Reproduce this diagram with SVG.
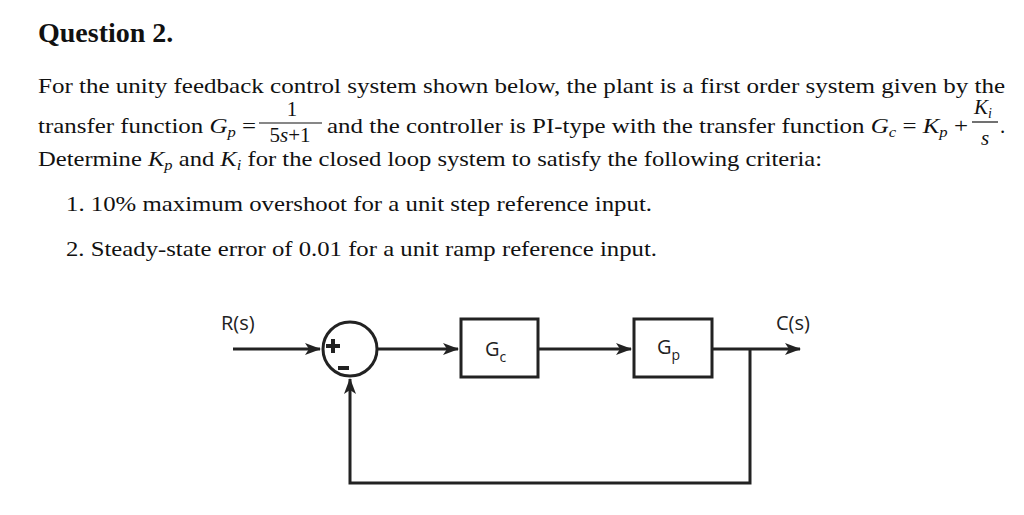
<svg xmlns="http://www.w3.org/2000/svg" width="1024" height="515" viewBox="0 0 1024 515">
<style>
.t{font-family:"Liberation Serif",serif;font-size:21px;fill:#111}
.i{font-style:italic}
.d{font-family:"Open Sans","DejaVu Sans",sans-serif;font-size:20px;fill:#222}
.ln{stroke:#222;stroke-width:3;fill:none}
</style>
<defs><marker id="a" viewBox="0 0 16 12" refX="15" refY="6" markerWidth="16" markerHeight="12" markerUnits="userSpaceOnUse" orient="auto"><path d="M0,0 L16,6 L0,12 L4,6z" fill="#222"/></marker></defs>
<rect width="1024" height="515" fill="#fff"/>
<text x="38" y="42" font-family="Liberation Serif,serif" font-weight="bold" font-size="28" fill="#111">Question 2.</text>
<text class="t" x="38" y="93" textLength="967" lengthAdjust="spacingAndGlyphs">For the unity feedback control system shown below, the plant is a first order system given by the</text>
<text class="t" x="38" y="133" textLength="218" lengthAdjust="spacingAndGlyphs">transfer function <tspan class="i">G</tspan><tspan class="i" font-size="14" dy="4">p</tspan><tspan dy="-4"> = </tspan></text>
<text class="t" x="292" y="116" text-anchor="middle">1</text>
<line x1="259" y1="123" x2="322" y2="123" stroke="#111" stroke-width="1.2"/>
<text class="t" x="290" y="142" text-anchor="middle">5<tspan class="i">s</tspan>+1</text>
<text class="t" x="327" y="133" textLength="641" lengthAdjust="spacingAndGlyphs">and the controller is PI-type with the transfer function <tspan class="i">G</tspan><tspan class="i" font-size="14" dy="4">c</tspan><tspan dy="-4"> = </tspan><tspan class="i">K</tspan><tspan class="i" font-size="14" dy="4">p</tspan><tspan dy="-4"> +</tspan></text>
<text class="t i" x="983" y="114" text-anchor="middle">K<tspan font-size="14" dy="4">i</tspan></text>
<line x1="972" y1="122" x2="998" y2="122" stroke="#111" stroke-width="1.2"/>
<text class="t i" x="985" y="145" text-anchor="middle">s</text>
<text class="t" x="1000" y="133">.</text>
<text class="t" x="38" y="166" textLength="784" lengthAdjust="spacingAndGlyphs">Determine <tspan class="i">K</tspan><tspan class="i" font-size="14" dy="4">p</tspan><tspan dy="-4"> and </tspan><tspan class="i">K</tspan><tspan class="i" font-size="14" dy="4">i</tspan><tspan dy="-4"> for the closed loop system to satisfy the following criteria:</tspan></text>
<text class="t" x="66" y="211" textLength="586" lengthAdjust="spacingAndGlyphs">1.  10% maximum overshoot for a unit step reference input.</text>
<text class="t" x="66" y="256" textLength="591" lengthAdjust="spacingAndGlyphs">2.  Steady-state error of 0.01 for a unit ramp reference input.</text>
<g id="connectors">
<line class="ln" x1="233" y1="349" x2="320" y2="349" marker-end="url(#a)"/>
<line class="ln" x1="378" y1="349" x2="458" y2="349" marker-end="url(#a)"/>
<line class="ln" x1="538" y1="349" x2="631" y2="349" marker-end="url(#a)"/>
<line class="ln" x1="712" y1="349" x2="800" y2="349" marker-end="url(#a)"/>
<polyline class="ln" points="750,349 750,483 350,483 350,379" marker-end="url(#a)"/>
</g>
<g id="labels">
<text class="d" x="221" y="330">R(s)</text>
<text class="d" x="776" y="330">C(s)</text>
</g>
<g id="sum">
<circle cx="350" cy="349" r="27" fill="#fff" stroke="#222" stroke-width="3"/>
<path d="M326,346h14M333,339v14M338,368h11" stroke="#222" stroke-width="4"/>
</g>
<g id="Gc"><rect x="461" y="319" width="77" height="58" fill="#fff" stroke="#222" stroke-width="3"/>
<text class="d" x="485" y="356" font-size="22">G<tspan font-size="14" dy="6">c</tspan></text></g>
<g id="Gp"><rect x="634" y="319" width="78" height="58" fill="#fff" stroke="#222" stroke-width="3"/>
<text class="d" x="657" y="354" font-size="22">G<tspan font-size="14" dy="6">p</tspan></text></g>
</svg>
